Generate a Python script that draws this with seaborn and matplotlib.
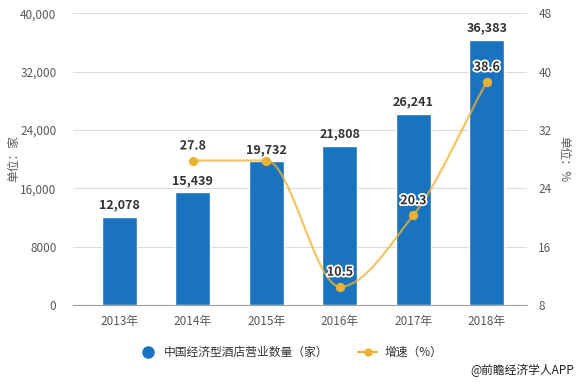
import numpy as np
import pandas as pd
import matplotlib
matplotlib.use("Agg")
import matplotlib.pyplot as plt
import matplotlib.patheffects as pe
from matplotlib.path import Path
from matplotlib.patches import PathPatch
from matplotlib.lines import Line2D
import seaborn as sns

# data
years = ["2013年", "2014年", "2015年", "2016年", "2017年", "2018年"]
hotels = [12078, 15439, 19732, 21808, 26241, 36383]
growth = [np.nan, 27.8, 27.8, 10.5, 20.3, 38.6]
growth_labels = [None, "27.8", None, "10.5", "20.3", "38.6"]

left_ticks = [0, 8000, 16000, 24000, 32000, 40000]
left_ticklabels = ["0", "8000", "16,000", "24,000", "32,000", "40,000"]
right_ticks = [8, 16, 24, 32, 40, 48]

BAR = "#1a73bf"
LINE = "#eeb232"
GRAY = "#595959"

sns.set_style("white")
plt.rcParams["font.family"] = ["Noto Sans CJK SC", "DejaVu Sans"]

df = pd.DataFrame({"year": years, "hotels": hotels, "growth": growth})

fig = plt.figure(figsize=(5.8, 3.87), dpi=100)
ax = fig.add_axes([0.126, 0.212, 0.783, 0.754])

sns.barplot(data=df, x="year", y="hotels", color=BAR, width=0.48,
            saturation=1, ax=ax, zorder=2)
ax.set_xlim(-0.63, 5.55)
ax.set_ylim(0, 40000)
ax.set_yticks(left_ticks)
ax.set_yticklabels(left_ticklabels)
ax.yaxis.grid(True, color="#dcdcdc", linewidth=0.8)
ax.set_axisbelow(True)
for s in ["top", "right", "left"]:
    ax.spines[s].set_visible(False)
ax.spines["bottom"].set_color("#a0a0a0")
ax.tick_params(axis="x", colors=GRAY, labelsize=8.5, length=4, width=0.8,
               color="#a0a0a0", pad=3)
ax.tick_params(axis="y", colors=GRAY, labelsize=8.5, length=0, pad=12)
ax.set_xlabel("")
ax.set_ylabel("")

for i, v in enumerate(hotels):
    ax.text(i, v + 700, f"{v:,}", ha="center", va="bottom", fontsize=9,
            fontweight="bold", color="#333333", zorder=5)

# growth line on twin axis, smooth monotone curve through the points
ax2 = ax.twinx()
ax2.set_ylim(8, 48)
ax2.set_yticks(right_ticks)
ax2.tick_params(axis="y", colors=GRAY, labelsize=8.5, length=0, pad=8)
for s in ["top", "right", "left", "bottom"]:
    ax2.spines[s].set_visible(False)

# axis titles placed in figure coords
fig.text(0.024, 0.59, "单位：家", color=GRAY, fontsize=8.5, rotation=90,
         ha="center", va="center")
fig.text(0.972, 0.59, "单位：%", color=GRAY, fontsize=8.5, rotation=270,
         ha="center", va="center")

xs = np.arange(len(years))[1:].astype(float)
ys = np.array(growth[1:], dtype=float)
d = np.diff(ys)
m = np.zeros_like(ys)
m[0], m[-1] = d[0], d[-1]
for k in range(1, len(ys) - 1):
    if d[k - 1] * d[k] > 0:
        m[k] = 2.0 / (1.0 / d[k - 1] + 1.0 / d[k])
verts = [(xs[0], ys[0])]
codes = [Path.MOVETO]
for k in range(len(xs) - 1):
    verts += [(xs[k] + 1 / 3, ys[k] + m[k] / 3),
              (xs[k + 1] - 1 / 3, ys[k + 1] - m[k + 1] / 3),
              (xs[k + 1], ys[k + 1])]
    codes += [Path.CURVE4] * 3
ax2.add_patch(PathPatch(Path(verts, codes), fill=False, edgecolor=LINE,
                        linewidth=1.6, alpha=0.75, zorder=3))
sns.scatterplot(x=xs, y=ys, color=LINE, s=45, edgecolor=LINE, linewidth=0,
                ax=ax2, zorder=4)

for i, lab in enumerate(growth_labels):
    if lab is None:
        continue
    ax2.text(i, growth[i] + 1.1, lab, ha="center", va="bottom", fontsize=9,
             fontweight="bold", color="#333333", zorder=6,
             path_effects=[pe.withStroke(linewidth=2.5, foreground="white")])

handles = [
    Line2D([], [], marker="o", color=BAR, linestyle="none", markersize=8),
    Line2D([], [], marker="o", color=LINE, linewidth=1.6, markersize=5),
]
fig.legend(handles, ["中国经济型酒店营业数量（家）", "增速（%）"],
           loc="center", bbox_to_anchor=(0.5, 0.09), ncol=2, frameon=False,
           fontsize=8.5, labelcolor="#333333", handlelength=1.6,
           columnspacing=2.5, handletextpad=0.6)

fig.text(0.99, 0.025, "@前瞻经济学人APP", ha="right", va="bottom",
         fontsize=8.5, color="#222222")

fig.savefig("out.png", dpi=100)
plt.close(fig)
